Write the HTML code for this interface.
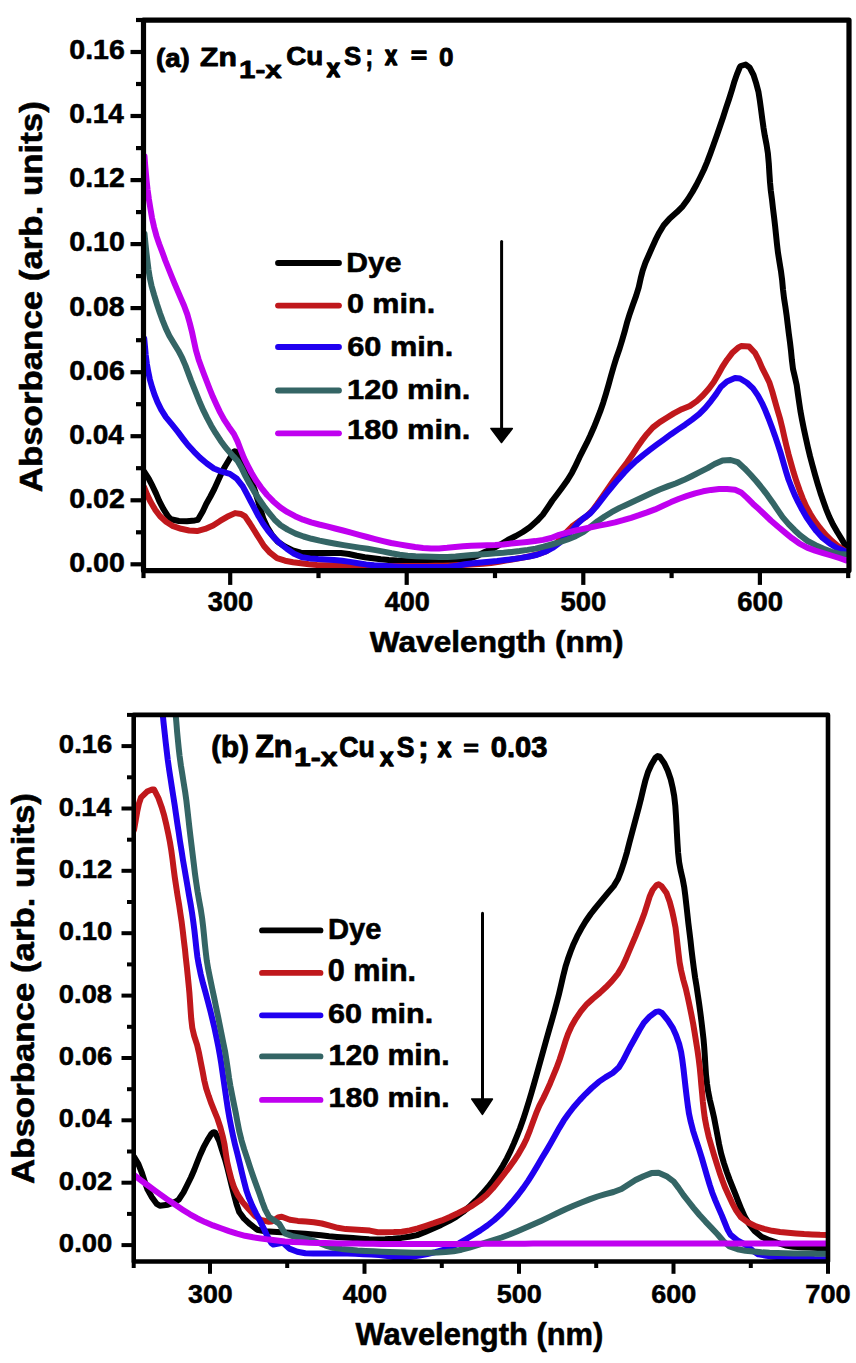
<!DOCTYPE html>
<html><head><meta charset="utf-8"><style>
html,body{margin:0;padding:0;background:#fff;width:856px;height:1363px;overflow:hidden}
svg{display:block}
text{font-family:"Liberation Sans",sans-serif;font-weight:bold;fill:#000;stroke:#000;stroke-linejoin:round}
.cv path{fill:none;stroke-width:6.0;stroke-linejoin:round;stroke-linecap:round}
.lg line{stroke-width:5.8;stroke-linecap:round}
</style></head><body>
<svg width="856" height="1363" viewBox="0 0 856 1363">
<defs>
<clipPath id="ca"><rect x="143.5" y="20" width="705.5" height="550.6"/></clipPath>
<clipPath id="cb"><rect x="133.7" y="714.9" width="694.3" height="546.6"/></clipPath>
</defs>
<g class="cv">
<path d="M144.0,471.5 148.7,478.7 152.6,486.2 156.1,493.6 159.3,501.1 163.2,508.7 167.9,516.2 170.9,519.3 178.9,521.0 186.9,521.3 194.9,520.4 197.9,519.8 202.7,511.6 206.2,504.0 210.4,496.5 214.3,489.0 217.7,481.6 221.1,474.0 225.0,466.5 229.5,459.0 233.9,451.8 234.9,451.3 236.9,451.8 241.9,458.0 245.9,465.4 249.2,474.3 252.3,483.3 255.4,492.3 258.1,501.2 260.7,510.2 263.6,519.4 267.2,527.0 271.8,534.6 277.8,541.7 284.8,546.4 292.8,550.5 300.8,552.7 308.8,552.9 316.8,552.9 324.8,553.0 332.8,553.0 340.8,553.0 348.8,554.0 356.8,555.8 364.8,557.2 372.8,558.3 380.8,559.3 388.8,560.1 396.8,560.6 404.8,560.7 412.8,560.8 420.8,560.9 428.8,561.0 436.8,561.0 444.8,560.8 452.8,560.4 460.8,559.8 468.8,559.0 476.8,556.0 484.8,552.0 492.8,548.5 500.8,544.2 507.8,540.0 515.8,536.0 522.8,532.0 529.8,527.2 536.8,521.1 542.8,514.7 547.6,507.7 552.4,500.5 557.4,494.0 562.4,487.2 567.4,480.2 572.0,472.7 575.7,465.3 579.3,457.7 583.1,450.2 586.9,442.7 590.4,435.3 593.7,427.8 596.7,420.3 600.2,411.4 603.3,402.4 606.0,393.6 608.6,384.6 611.1,375.5 613.7,366.5 616.5,357.4 619.6,348.5 622.3,339.6 624.9,330.6 627.3,321.6 629.7,313.9 632.8,304.9 636.1,295.9 638.7,287.3 640.7,278.3 642.7,270.5 645.4,262.8 648.7,255.3 652.0,247.8 655.4,240.2 659.2,232.7 663.7,225.2 669.7,218.4 676.7,212.3 682.7,206.3 687.7,199.5 692.4,192.0 696.6,184.5 700.4,177.0 704.0,169.5 707.1,162.1 710.5,153.1 713.7,144.2 716.9,135.2 720.0,126.2 723.1,117.2 726.0,108.2 729.0,99.2 731.8,90.3 734.5,81.2 737.2,73.6 739.7,67.5 740.7,66.0 745.7,64.5 749.7,67.7 753.5,74.9 756.3,83.7 758.5,92.1 759.8,100.4 761.0,109.2 762.2,118.3 763.5,127.7 764.8,135.7 766.5,144.4 767.9,153.4 768.8,163.5 769.4,173.5 770.0,182.3 770.8,190.6 772.0,199.7 773.0,208.5 774.1,217.4 775.1,226.0 776.0,234.8 777.0,244.4 778.0,252.8 779.5,262.2 780.9,270.7 782.1,279.8 783.0,289.5 784.0,298.0 785.4,306.9 786.6,315.4 787.7,324.4 788.8,333.5 790.0,342.4 791.0,350.9 791.9,360.2 793.0,369.0 794.9,377.0 796.7,385.1 797.9,393.8 799.2,402.9 800.4,410.9 802.1,420.1 803.9,429.2 805.9,438.3 807.9,447.4 810.1,456.5 812.5,465.5 815.0,474.6 817.6,483.6 820.4,492.7 823.5,501.8 826.2,509.3 829.3,516.9 833.0,524.5 837.3,532.0 841.9,539.5 846.2,547.0 847.5,549.3" stroke="#000" clip-path="url(#ca)"/>
<path d="M144.0,487.0 147.1,494.6 150.7,502.1 155.1,509.6 160.1,516.2 166.1,521.7 173.1,526.2 181.1,528.8 189.1,530.5 197.1,531.1 205.1,528.9 213.1,525.4 220.1,520.9 227.1,516.8 235.1,513.1 241.1,514.0 245.1,516.4 249.9,523.5 254.6,531.0 259.3,538.5 264.0,546.0 270.0,552.7 277.0,558.1 285.0,560.7 293.0,562.2 301.0,563.3 309.0,564.3 317.0,565.0 325.0,565.2 333.0,565.3 341.0,565.3 349.0,565.5 357.0,565.9 365.0,566.0 374.0,566.0 383.0,566.0 392.0,566.0 401.0,566.0 410.0,566.0 419.0,566.0 427.0,566.0 435.0,565.8 443.0,565.7 451.0,565.4 459.0,565.1 467.0,564.7 475.0,564.3 483.0,563.8 491.0,563.0 499.0,561.8 507.0,560.4 515.0,559.0 523.0,557.6 531.0,556.0 539.0,553.9 547.0,550.9 554.0,545.6 560.0,539.3 566.0,532.6 572.0,526.5 579.0,521.3 586.0,516.9 592.0,511.0 597.0,504.3 602.0,497.1 607.0,490.0 612.0,482.7 617.0,475.7 622.0,469.1 627.0,462.5 632.0,455.3 636.8,447.8 641.8,440.7 646.8,434.2 652.8,427.5 659.8,422.1 666.8,417.7 673.8,413.4 681.8,409.2 689.8,406.0 696.8,401.1 702.8,395.5 708.8,388.7 713.8,382.0 718.2,374.5 722.3,367.0 727.1,359.7 732.1,353.1 738.1,347.7 741.1,346.1 749.1,346.6 755.1,353.0 758.9,360.4 762.1,367.9 766.0,375.5 769.5,382.8 772.3,391.6 774.8,400.6 777.4,409.7 780.0,418.5 782.2,427.4 784.2,436.4 786.3,445.4 788.6,454.6 791.1,463.6 793.7,472.7 796.6,481.8 799.8,490.8 802.7,498.4 806.0,506.0 810.1,513.5 814.8,521.0 819.8,527.8 825.8,534.9 831.8,540.8 838.8,546.7 845.8,551.4 846.0,551.5" stroke="#c0181c" clip-path="url(#ca)"/>
<path d="M144.2,338.4 145.0,346.7 145.7,354.8 146.8,363.5 148.2,371.4 149.8,379.2 152.0,387.0 154.5,394.6 157.5,402.2 161.2,409.7 165.9,417.2 171.9,424.4 177.9,431.9 182.9,438.6 187.9,445.0 193.9,451.6 199.9,457.6 206.9,463.5 213.9,468.5 221.9,471.7 229.9,473.9 236.9,478.8 242.8,486.3 246.8,493.8 250.7,501.3 254.7,508.8 258.6,516.3 263.1,523.8 268.1,530.7 274.1,537.8 280.1,543.5 287.1,549.0 294.1,553.8 302.1,557.3 310.1,558.4 318.1,559.1 326.1,559.6 334.1,560.1 342.1,560.8 350.1,561.9 358.1,563.2 366.1,564.4 374.1,565.2 382.1,565.8 390.1,566.3 398.1,566.7 406.1,567.0 414.1,567.0 423.1,567.0 432.1,567.0 441.1,567.0 449.1,566.8 457.1,565.7 465.1,564.3 473.1,563.3 481.1,562.5 489.1,561.7 497.1,561.0 505.1,560.1 513.1,559.1 521.1,557.9 529.1,556.5 537.1,554.7 545.1,551.8 553.1,547.7 560.1,542.3 566.1,536.9 572.1,530.4 577.1,524.1 583.1,518.5 590.1,513.5 596.1,506.8 601.1,500.4 606.1,493.9 612.1,486.5 618.1,479.4 624.1,472.7 630.1,466.5 636.1,460.9 643.1,455.1 650.1,449.7 657.1,444.4 664.1,439.3 671.1,434.2 678.1,429.4 685.1,424.7 692.1,419.6 699.1,414.2 705.1,408.2 711.1,400.8 716.1,394.1 721.0,386.7 727.0,381.4 735.0,378.0 740.0,378.5 747.0,382.7 753.0,388.4 758.0,395.6 762.0,403.1 765.4,410.6 768.4,418.0 771.8,427.0 775.0,435.9 778.0,444.9 780.9,453.8 783.5,462.8 786.1,471.8 788.5,479.5 791.4,487.0 794.6,494.6 798.2,502.1 802.1,509.6 806.5,517.2 811.4,524.4 816.4,531.1 822.4,537.7 829.4,543.2 836.4,547.7 844.4,551.1 846.0,551.5" stroke="#2000f0" clip-path="url(#ca)"/>
<path d="M144.5,233.7 145.4,243.1 146.4,252.5 147.5,261.6 148.5,269.6 149.8,277.9 151.5,285.7 154.1,294.9 156.9,304.0 159.9,313.0 162.7,320.6 165.7,328.1 169.3,335.7 173.8,343.2 178.4,350.7 182.3,358.2 185.5,365.6 188.3,373.1 191.1,380.6 194.1,388.1 197.1,395.6 200.1,403.1 203.5,410.7 207.2,418.2 211.2,425.7 215.7,433.2 220.6,440.7 225.6,447.6 231.6,454.4 237.6,461.1 241.9,468.6 245.5,476.1 249.5,483.6 253.9,491.1 258.6,498.6 263.6,505.7 268.6,512.4 274.6,519.7 280.6,525.2 287.6,529.6 295.6,533.6 303.6,536.5 311.6,538.8 319.6,540.6 327.6,542.2 335.6,543.7 343.6,545.1 351.6,546.4 359.6,547.6 367.6,548.8 375.6,550.1 383.6,551.6 391.6,553.3 399.6,554.8 407.6,555.8 415.6,556.3 423.6,556.6 431.6,556.8 439.6,557.0 447.6,557.0 455.6,556.5 463.6,555.7 471.6,555.0 479.6,554.4 487.6,553.9 495.6,553.3 503.6,552.7 511.6,551.9 519.6,551.0 527.6,549.9 535.6,548.6 543.6,546.7 551.6,544.5 559.6,542.2 567.6,539.5 575.6,536.2 583.6,531.8 590.6,526.6 597.6,521.2 604.6,516.5 611.6,512.2 619.6,507.9 627.6,504.2 635.6,500.6 643.6,496.8 651.6,493.0 659.6,489.5 667.6,486.4 675.6,483.5 683.6,480.1 691.6,476.2 699.6,472.1 707.6,468.1 714.6,464.0 722.6,460.4 730.6,460.0 737.6,462.1 744.6,468.4 750.6,474.7 756.6,481.5 762.6,488.9 767.6,495.4 772.6,502.4 777.6,509.9 782.6,517.1 788.6,524.1 794.6,530.2 800.6,535.7 807.6,541.0 815.6,545.2 823.6,548.8 831.6,551.9 839.6,553.9 846.0,554.6" stroke="#346565" clip-path="url(#ca)"/>
<path d="M144.5,156.2 145.1,164.3 145.9,173.6 146.7,181.8 147.6,189.8 148.9,199.2 150.4,208.5 152.0,217.8 154.1,227.2 156.6,236.4 159.2,244.0 162.6,253.0 165.3,260.5 168.3,268.0 171.3,275.5 174.4,283.1 177.6,290.6 180.8,298.1 184.0,305.5 187.3,314.4 189.8,323.2 192.0,332.0 193.9,340.8 195.9,350.2 198.6,359.4 201.3,367.0 204.1,374.5 207.0,382.0 209.9,389.5 213.0,397.1 216.4,404.6 220.0,412.1 224.1,419.7 228.9,426.9 233.9,434.0 237.5,441.4 240.9,450.3 244.0,458.0 247.7,465.5 251.6,473.0 256.1,480.5 261.1,487.6 267.1,495.0 273.1,501.2 280.1,507.2 287.1,511.9 295.1,516.2 303.1,519.7 311.1,522.4 319.1,524.5 327.1,526.4 335.1,528.5 343.1,530.5 351.1,532.6 359.1,534.8 367.1,537.0 375.1,539.1 383.1,541.1 391.1,543.0 399.1,544.4 407.1,545.7 415.1,547.0 423.1,548.0 431.1,548.5 439.1,548.4 447.1,547.8 455.1,547.0 463.1,546.3 471.1,545.8 479.1,545.5 487.1,545.3 495.1,545.0 503.1,544.5 511.1,543.6 519.1,542.8 527.1,542.0 535.1,541.1 543.1,539.9 551.1,538.0 559.1,534.9 567.1,532.6 575.1,530.7 583.1,528.9 591.1,527.2 599.1,525.6 607.1,524.1 615.1,522.4 623.1,520.2 631.1,517.8 639.1,515.2 647.1,512.4 655.1,509.4 663.1,505.8 671.1,502.1 679.1,498.8 687.1,495.9 695.1,493.3 703.1,491.3 711.1,489.9 719.1,489.0 727.1,489.0 735.1,489.7 741.1,492.4 747.1,497.9 753.1,503.9 759.1,509.3 765.1,515.0 771.1,520.7 778.1,526.8 785.1,532.6 792.1,538.3 799.1,543.3 807.1,547.6 815.1,550.6 823.1,553.1 831.1,555.5 839.1,558.0 846.0,560.3" stroke="#c000f0" clip-path="url(#ca)"/>
<path d="M134.0,1156.7 138.4,1164.1 141.9,1172.9 144.8,1181.9 147.6,1189.6 151.9,1197.2 156.8,1203.9 159.8,1205.7 167.8,1204.7 175.8,1201.6 178.8,1199.5 183.5,1192.4 187.2,1185.0 190.9,1177.5 194.2,1170.0 197.1,1162.5 200.1,1155.0 203.5,1147.4 207.6,1139.9 211.2,1134.1 213.2,1132.4 214.2,1132.2 215.2,1132.7 219.3,1141.3 222.1,1150.3 225.0,1159.2 227.4,1168.0 229.6,1177.0 231.8,1186.0 234.1,1195.1 236.5,1204.1 239.2,1212.0 244.1,1218.6 250.1,1224.2 257.1,1229.7 265.1,1231.3 273.1,1231.8 281.1,1232.3 289.1,1232.8 297.1,1233.3 305.1,1233.8 313.1,1234.5 321.1,1235.3 329.1,1236.2 337.1,1236.9 345.1,1237.5 353.1,1238.1 361.1,1238.7 369.1,1239.2 377.1,1239.4 385.1,1239.3 393.1,1238.8 401.1,1237.9 409.1,1236.8 417.1,1235.1 425.1,1231.9 433.1,1228.4 441.1,1224.9 449.1,1220.9 456.1,1216.8 463.1,1211.9 470.1,1206.0 476.1,1200.2 482.1,1193.9 488.1,1187.0 493.1,1180.5 498.1,1173.3 502.8,1165.8 506.9,1158.4 510.6,1150.9 513.9,1143.4 517.0,1135.9 519.9,1128.5 523.1,1119.6 526.0,1110.6 528.8,1101.6 531.5,1092.7 534.1,1083.7 536.6,1074.7 539.1,1065.7 541.6,1056.7 544.1,1047.7 546.6,1038.7 549.2,1029.7 551.8,1020.7 554.3,1011.7 556.7,1002.8 559.0,993.9 561.1,985.0 563.2,975.9 565.5,966.7 567.9,959.1 570.6,951.5 573.6,943.9 577.1,936.4 581.2,928.8 585.7,921.3 590.7,914.0 595.7,907.6 601.7,900.4 607.7,893.2 613.7,886.1 618.1,878.8 621.5,869.9 624.4,861.0 627.0,852.1 629.3,843.1 631.7,834.1 634.1,825.1 636.5,816.1 638.9,807.1 641.1,798.3 643.2,789.3 645.5,780.1 647.9,772.3 651.3,764.7 655.7,757.4 657.7,756.1 659.7,756.7 664.3,763.2 667.8,770.7 670.7,779.3 672.7,787.9 674.2,796.1 675.3,805.8 675.9,814.7 676.5,825.1 676.9,833.2 677.5,843.7 678.1,852.7 679.1,862.1 680.6,870.3 682.7,879.1 684.2,887.2 685.3,895.7 686.3,904.5 687.3,913.5 688.3,922.7 689.4,931.7 690.5,940.7 691.5,949.8 692.6,958.9 693.8,968.2 695.1,977.5 696.6,986.6 697.9,995.4 699.2,1004.2 700.4,1013.1 701.5,1021.8 702.5,1030.4 703.5,1039.0 704.2,1047.0 704.8,1055.6 705.4,1065.6 706.0,1074.7 707.0,1083.7 708.2,1091.7 709.8,1099.6 712.0,1108.7 714.0,1117.4 715.7,1126.2 717.4,1135.3 719.1,1144.4 721.2,1153.8 723.8,1162.9 726.8,1172.0 729.6,1179.6 732.6,1187.1 735.6,1194.6 738.5,1202.1 741.5,1209.6 744.9,1217.2 749.5,1224.6 754.5,1230.9 761.5,1236.7 769.5,1240.2 777.5,1242.8 785.5,1245.5 793.5,1246.7 801.5,1247.2 809.5,1247.6 817.5,1247.9 825.5,1248.0 827.4,1248.0" stroke="#000" clip-path="url(#cb)"/>
<path d="M134.0,830.0 135.6,820.9 137.2,811.7 138.9,803.8 141.1,797.3 147.1,791.6 152.1,789.5 154.1,789.6 158.4,798.0 161.6,806.9 164.2,815.7 166.3,824.5 168.2,833.3 169.9,842.0 171.3,850.5 172.5,859.3 173.6,868.3 174.8,877.5 176.2,886.8 177.6,895.9 179.1,904.8 180.4,913.6 181.7,922.3 182.8,931.1 183.8,939.9 184.9,948.8 185.8,957.7 186.8,966.6 187.7,975.4 188.6,984.4 189.4,992.9 190.0,1001.2 190.6,1010.1 191.2,1018.4 192.3,1027.9 194.2,1036.0 197.1,1044.9 199.1,1053.5 200.8,1062.4 202.6,1071.4 204.3,1080.6 206.2,1088.5 208.7,1096.1 211.4,1103.7 214.4,1111.2 217.5,1118.7 220.4,1127.5 222.7,1136.2 224.5,1144.5 225.8,1153.2 227.1,1161.6 229.2,1170.8 231.6,1180.0 234.2,1187.7 238.0,1195.3 242.8,1202.4 248.8,1209.3 254.8,1215.7 260.8,1219.9 268.8,1221.7 271.8,1221.5 278.8,1217.1 281.8,1216.7 289.8,1219.7 297.8,1220.9 305.8,1221.6 313.8,1222.2 321.8,1223.5 329.8,1225.7 337.8,1227.8 345.8,1229.1 353.8,1229.6 361.8,1230.0 369.8,1230.6 377.8,1232.2 385.8,1232.3 393.8,1232.1 401.8,1231.7 409.8,1230.4 417.8,1228.3 425.8,1225.8 433.8,1223.2 441.8,1220.4 449.8,1217.0 457.8,1213.3 465.8,1209.3 472.8,1205.3 479.8,1200.6 486.8,1194.7 492.8,1188.3 498.8,1180.9 503.8,1174.5 508.8,1168.0 513.8,1161.1 518.7,1153.6 523.0,1146.1 526.6,1138.7 530.1,1129.8 533.4,1120.8 536.2,1113.2 539.4,1105.6 543.3,1098.1 546.8,1090.7 550.2,1083.2 553.3,1075.7 556.4,1068.2 559.7,1059.3 562.6,1050.4 565.4,1041.3 568.1,1033.7 571.6,1026.1 575.9,1018.6 580.8,1011.4 586.8,1004.2 592.8,998.7 599.8,992.9 605.8,987.3 611.8,981.2 617.8,973.9 622.3,966.5 625.8,959.1 628.9,951.6 632.1,944.1 635.3,936.6 638.3,929.1 641.3,921.6 644.6,912.7 647.4,903.8 649.8,896.2 652.6,890.0 656.6,885.0 658.6,884.3 661.6,886.2 666.5,893.0 669.7,901.7 672.0,910.4 673.9,919.2 675.5,927.5 676.5,935.7 677.5,944.6 678.6,954.0 679.6,962.4 681.1,970.4 683.3,979.7 685.8,988.6 687.8,997.4 689.7,1006.3 691.5,1015.2 693.2,1024.0 694.7,1032.9 696.1,1041.7 697.5,1050.5 698.7,1059.1 699.7,1067.3 700.6,1076.4 701.3,1084.7 702.1,1093.1 702.8,1101.3 703.7,1109.6 704.8,1118.1 706.6,1127.4 708.7,1136.7 711.3,1145.8 714.0,1154.8 716.8,1163.9 719.7,1172.9 722.4,1180.5 725.3,1188.1 728.7,1195.6 732.2,1203.1 736.2,1210.6 741.1,1217.4 748.1,1222.5 756.1,1226.4 764.1,1228.9 772.1,1230.8 780.1,1232.0 788.1,1232.8 796.1,1233.5 804.1,1234.1 812.1,1234.5 820.1,1234.8 827.4,1234.9" stroke="#c0181c" clip-path="url(#cb)"/>
<path d="M162.7,714.0 163.6,723.1 164.6,732.3 165.6,741.5 166.7,750.8 167.8,760.1 169.1,769.3 170.5,778.4 171.9,787.5 173.3,796.4 174.7,805.3 176.0,814.3 177.3,823.3 178.7,832.3 180.0,841.4 181.5,850.5 182.9,859.6 184.5,868.7 186.0,877.6 187.6,886.7 189.1,895.7 190.7,904.6 192.1,913.4 193.3,921.9 194.4,930.4 195.4,939.4 196.4,948.7 197.4,956.9 198.8,964.9 200.7,974.2 203.0,983.4 205.5,992.4 207.9,1001.4 210.2,1010.3 212.4,1019.2 214.5,1028.1 216.4,1037.0 218.2,1045.9 219.8,1054.7 221.2,1063.3 222.5,1072.2 223.8,1081.3 225.1,1090.2 226.4,1099.3 227.8,1108.5 229.4,1117.9 231.2,1127.0 233.1,1136.1 235.2,1145.3 237.5,1154.3 239.7,1163.2 241.8,1172.2 244.0,1181.3 246.4,1190.5 249.1,1198.2 252.3,1205.8 256.0,1213.3 260.0,1220.8 263.7,1228.3 267.1,1235.8 271.3,1243.1 273.3,1244.5 281.3,1243.0 283.3,1243.0 289.3,1248.6 297.3,1251.7 305.3,1253.2 313.3,1253.4 322.3,1253.4 331.3,1253.4 339.3,1253.4 347.3,1253.6 355.3,1253.8 363.3,1254.2 371.3,1254.6 379.3,1255.1 387.3,1256.0 395.3,1257.2 403.3,1257.4 411.3,1256.8 419.3,1255.6 427.3,1254.0 435.3,1252.1 443.3,1250.0 451.3,1247.1 459.3,1243.1 466.3,1239.0 473.3,1234.8 480.3,1230.4 487.3,1225.5 494.3,1220.0 500.3,1214.6 506.3,1208.5 512.3,1201.8 518.3,1194.5 523.3,1187.9 528.3,1180.6 533.0,1173.1 537.5,1165.6 541.9,1158.1 546.4,1150.6 550.7,1143.2 554.9,1135.7 559.2,1128.1 563.7,1120.6 568.7,1113.5 573.7,1107.0 579.7,1100.1 585.7,1093.8 591.7,1088.0 598.7,1081.9 605.7,1077.1 612.7,1073.0 618.7,1067.6 623.3,1060.2 627.1,1052.7 631.0,1045.2 635.2,1037.7 639.3,1030.2 643.9,1022.7 649.9,1016.3 655.9,1011.9 658.9,1011.4 661.9,1013.0 667.9,1020.3 672.6,1027.6 676.0,1035.0 679.1,1043.8 681.1,1051.9 682.4,1060.3 683.5,1069.0 684.5,1077.8 685.5,1086.8 686.6,1096.1 687.8,1105.5 689.0,1113.7 690.7,1121.6 693.1,1130.8 696.0,1139.9 699.0,1148.9 701.8,1157.8 704.4,1166.8 707.0,1175.8 709.7,1184.9 712.2,1192.5 715.2,1200.1 718.4,1207.6 721.7,1215.1 724.7,1222.5 727.8,1230.1 730.4,1234.6 737.4,1240.3 745.4,1244.7 752.4,1250.4 758.4,1254.4 766.4,1255.7 774.4,1256.7 782.4,1257.4 790.4,1258.0 798.4,1258.5 806.4,1258.8 814.4,1259.1 822.4,1259.2 827.4,1259.2" stroke="#2000f0" clip-path="url(#cb)"/>
<path d="M175.6,714.0 176.4,723.1 177.1,731.8 177.9,740.0 178.7,748.1 179.6,756.1 180.9,765.5 182.4,774.7 183.8,783.6 185.2,792.3 186.4,800.9 187.4,809.6 188.4,818.5 189.4,827.6 190.5,836.8 191.6,845.8 192.7,854.8 193.8,863.9 194.9,873.1 196.2,882.3 197.6,891.7 199.2,900.9 200.8,909.6 202.1,918.1 203.1,926.3 204.0,935.1 204.9,944.4 205.8,952.5 206.8,960.8 208.4,970.2 210.3,979.4 212.2,988.5 214.1,997.3 215.9,1006.3 217.8,1015.3 219.6,1024.3 221.4,1033.4 223.2,1042.3 225.0,1051.1 226.4,1059.7 227.7,1068.5 229.0,1077.7 230.3,1085.6 232.1,1094.9 233.9,1103.8 235.7,1112.7 237.4,1121.7 239.2,1131.0 241.5,1140.3 244.2,1149.4 247.2,1158.4 250.1,1167.4 253.2,1176.5 255.9,1184.0 259.2,1193.0 262.3,1202.0 265.2,1209.6 269.2,1217.1 276.2,1221.7 279.2,1223.7 283.5,1231.0 285.5,1233.7 293.5,1236.5 301.5,1237.9 309.5,1239.6 317.5,1242.4 325.5,1245.5 333.5,1247.8 341.5,1248.9 349.5,1249.7 357.5,1250.4 365.5,1250.9 373.5,1251.3 381.5,1251.7 389.5,1252.0 397.5,1252.3 405.5,1252.5 413.5,1252.7 421.5,1252.8 429.5,1252.7 437.5,1252.5 445.5,1252.1 453.5,1251.3 461.5,1249.7 469.5,1247.6 477.5,1245.2 485.5,1242.7 493.5,1240.1 501.5,1237.5 509.5,1234.5 517.5,1231.2 525.5,1227.8 533.5,1224.3 541.5,1220.7 549.5,1216.9 557.5,1213.0 565.5,1209.2 573.5,1205.7 581.5,1202.5 589.5,1199.4 597.5,1196.5 605.5,1194.1 613.5,1192.0 621.5,1189.0 628.5,1184.5 635.5,1180.0 643.5,1176.2 651.5,1173.1 658.5,1172.7 666.5,1176.2 673.5,1181.3 678.5,1187.9 683.5,1195.1 688.5,1201.5 693.5,1207.8 699.5,1215.0 705.5,1221.6 711.5,1227.9 717.5,1234.2 723.5,1241.3 729.5,1246.5 737.5,1249.2 745.5,1250.7 753.5,1251.6 761.5,1252.3 769.5,1252.8 777.5,1253.0 785.5,1253.2 793.5,1253.4 801.5,1253.5 809.5,1253.6 817.5,1253.7 825.5,1253.7 827.4,1253.7" stroke="#346565" clip-path="url(#cb)"/>
<path d="M134.0,1175.0 141.0,1180.3 148.0,1185.5 155.0,1190.6 162.0,1195.6 169.0,1200.6 176.0,1205.3 183.0,1209.9 190.0,1214.3 197.0,1218.2 205.0,1222.1 213.0,1225.4 221.0,1228.3 229.0,1231.1 237.0,1233.7 245.0,1235.8 253.0,1237.3 261.0,1238.5 269.0,1239.6 277.0,1240.5 285.0,1241.4 293.0,1242.0 301.0,1242.3 309.0,1242.7 317.0,1242.9 325.0,1243.1 333.0,1243.3 341.0,1243.4 349.0,1243.5 357.0,1243.6 365.0,1243.8 373.0,1243.8 381.0,1243.9 389.0,1244.0 397.0,1244.0 405.0,1244.0 413.0,1244.0 421.0,1244.0 429.0,1244.0 437.0,1244.0 445.0,1243.9 453.0,1243.9 461.0,1243.9 469.0,1243.9 477.0,1243.8 485.0,1243.8 493.0,1243.8 501.0,1243.7 509.0,1243.7 517.0,1243.7 525.0,1243.7 533.0,1243.6 541.0,1243.6 549.0,1243.6 557.0,1243.6 565.0,1243.5 573.0,1243.5 581.0,1243.5 589.0,1243.5 597.0,1243.5 605.0,1243.5 614.0,1243.5 623.0,1243.5 632.0,1243.5 641.0,1243.5 650.0,1243.5 659.0,1243.5 668.0,1243.5 677.0,1243.5 686.0,1243.5 695.0,1243.5 704.0,1243.5 713.0,1243.5 722.0,1243.5 731.0,1243.5 740.0,1243.5 749.0,1243.5 758.0,1243.5 767.0,1243.5 776.0,1243.5 785.0,1243.5 794.0,1243.5 803.0,1243.5 812.0,1243.5 821.0,1243.5 827.0,1243.5" stroke="#c000f0" clip-path="url(#cb)"/>
</g>
<path d="M143.5,20.1 H849 V570.6 H143.5 Z" fill="none" stroke="#000" stroke-width="5.2" stroke-linejoin="round"/>
<line x1="130.5" y1="564.3" x2="143.5" y2="564.3" stroke="#000" stroke-width="4.2"/>
<text transform="translate(69.32,571.68) scale(0.9823,0.9281)" font-size="29" stroke-width="0.6">0.00</text>
<line x1="136.0" y1="532.3" x2="143.5" y2="532.3" stroke="#000" stroke-width="4.2"/>
<line x1="130.5" y1="500.3" x2="143.5" y2="500.3" stroke="#000" stroke-width="4.2"/>
<text transform="translate(69.32,507.64) scale(0.9823,0.9281)" font-size="29" stroke-width="0.6">0.02</text>
<line x1="136.0" y1="468.2" x2="143.5" y2="468.2" stroke="#000" stroke-width="4.2"/>
<line x1="130.5" y1="436.2" x2="143.5" y2="436.2" stroke="#000" stroke-width="4.2"/>
<text transform="translate(69.34,443.61) scale(0.9647,0.9281)" font-size="29" stroke-width="0.6">0.04</text>
<line x1="136.0" y1="404.2" x2="143.5" y2="404.2" stroke="#000" stroke-width="4.2"/>
<line x1="130.5" y1="372.2" x2="143.5" y2="372.2" stroke="#000" stroke-width="4.2"/>
<text transform="translate(69.32,379.57) scale(0.9823,0.9281)" font-size="29" stroke-width="0.6">0.06</text>
<line x1="136.0" y1="340.2" x2="143.5" y2="340.2" stroke="#000" stroke-width="4.2"/>
<line x1="130.5" y1="308.1" x2="143.5" y2="308.1" stroke="#000" stroke-width="4.2"/>
<text transform="translate(69.32,315.53) scale(0.9764,0.9281)" font-size="29" stroke-width="0.6">0.08</text>
<line x1="136.0" y1="276.1" x2="143.5" y2="276.1" stroke="#000" stroke-width="4.2"/>
<line x1="130.5" y1="244.1" x2="143.5" y2="244.1" stroke="#000" stroke-width="4.2"/>
<text transform="translate(69.32,251.49) scale(0.9823,0.9281)" font-size="29" stroke-width="0.6">0.10</text>
<line x1="136.0" y1="212.1" x2="143.5" y2="212.1" stroke="#000" stroke-width="4.2"/>
<line x1="130.5" y1="180.1" x2="143.5" y2="180.1" stroke="#000" stroke-width="4.2"/>
<text transform="translate(69.32,187.45) scale(0.9823,0.9281)" font-size="29" stroke-width="0.6">0.12</text>
<line x1="136.0" y1="148.1" x2="143.5" y2="148.1" stroke="#000" stroke-width="4.2"/>
<line x1="130.5" y1="116.0" x2="143.5" y2="116.0" stroke="#000" stroke-width="4.2"/>
<text transform="translate(69.34,123.42) scale(0.9647,0.9281)" font-size="29" stroke-width="0.6">0.14</text>
<line x1="136.0" y1="84.0" x2="143.5" y2="84.0" stroke="#000" stroke-width="4.2"/>
<line x1="130.5" y1="52.0" x2="143.5" y2="52.0" stroke="#000" stroke-width="4.2"/>
<text transform="translate(69.32,59.38) scale(0.9823,0.9281)" font-size="29" stroke-width="0.6">0.16</text>
<line x1="136.0" y1="20.0" x2="143.5" y2="20.0" stroke="#000" stroke-width="4.2"/>
<line x1="143.5" y1="570.6" x2="143.5" y2="578.1" stroke="#000" stroke-width="4.2"/>
<line x1="230.2" y1="570.6" x2="230.2" y2="584.9" stroke="#000" stroke-width="4.2"/>
<text transform="translate(207.76,610.55) scale(0.9404,0.9703)" font-size="29" stroke-width="0.6">300</text>
<line x1="318.5" y1="570.6" x2="318.5" y2="578.1" stroke="#000" stroke-width="4.2"/>
<line x1="406.7" y1="570.6" x2="406.7" y2="584.9" stroke="#000" stroke-width="4.2"/>
<text transform="translate(384.64,610.55) scale(0.9338,0.9703)" font-size="29" stroke-width="0.6">400</text>
<line x1="495.0" y1="570.6" x2="495.0" y2="578.1" stroke="#000" stroke-width="4.2"/>
<line x1="583.3" y1="570.6" x2="583.3" y2="584.9" stroke="#000" stroke-width="4.2"/>
<text transform="translate(560.58,610.55) scale(0.9471,0.9703)" font-size="29" stroke-width="0.6">500</text>
<line x1="671.6" y1="570.6" x2="671.6" y2="578.1" stroke="#000" stroke-width="4.2"/>
<line x1="759.9" y1="570.6" x2="759.9" y2="584.9" stroke="#000" stroke-width="4.2"/>
<text transform="translate(737.15,610.55) scale(0.9471,0.9703)" font-size="29" stroke-width="0.6">600</text>
<line x1="848.2" y1="570.6" x2="848.2" y2="578.1" stroke="#000" stroke-width="4.2"/>
<path d="M133.7,714.9 H828 V1261.5 H133.7 Z" fill="none" stroke="#000" stroke-width="4.6" stroke-linejoin="round"/>
<line x1="121.5" y1="1245.1" x2="133.7" y2="1245.1" stroke="#000" stroke-width="4.0"/>
<text transform="translate(58.85,1252.2) scale(0.9476,0.9047)" font-size="29" stroke-width="0.6">0.00</text>
<line x1="127.0" y1="1213.9" x2="133.7" y2="1213.9" stroke="#000" stroke-width="4.0"/>
<line x1="121.5" y1="1182.7" x2="133.7" y2="1182.7" stroke="#000" stroke-width="4.0"/>
<text transform="translate(58.85,1189.82) scale(0.9476,0.9047)" font-size="29" stroke-width="0.6">0.02</text>
<line x1="127.0" y1="1151.5" x2="133.7" y2="1151.5" stroke="#000" stroke-width="4.0"/>
<line x1="121.5" y1="1120.3" x2="133.7" y2="1120.3" stroke="#000" stroke-width="4.0"/>
<text transform="translate(58.87,1127.45) scale(0.9305,0.9047)" font-size="29" stroke-width="0.6">0.04</text>
<line x1="127.0" y1="1089.2" x2="133.7" y2="1089.2" stroke="#000" stroke-width="4.0"/>
<line x1="121.5" y1="1058.0" x2="133.7" y2="1058.0" stroke="#000" stroke-width="4.0"/>
<text transform="translate(58.85,1065.07) scale(0.9476,0.9047)" font-size="29" stroke-width="0.6">0.06</text>
<line x1="127.0" y1="1026.8" x2="133.7" y2="1026.8" stroke="#000" stroke-width="4.0"/>
<line x1="121.5" y1="995.6" x2="133.7" y2="995.6" stroke="#000" stroke-width="4.0"/>
<text transform="translate(58.86,1002.7) scale(0.9418,0.9047)" font-size="29" stroke-width="0.6">0.08</text>
<line x1="127.0" y1="964.4" x2="133.7" y2="964.4" stroke="#000" stroke-width="4.0"/>
<line x1="121.5" y1="933.2" x2="133.7" y2="933.2" stroke="#000" stroke-width="4.0"/>
<text transform="translate(58.85,940.32) scale(0.9476,0.9047)" font-size="29" stroke-width="0.6">0.10</text>
<line x1="127.0" y1="902.0" x2="133.7" y2="902.0" stroke="#000" stroke-width="4.0"/>
<line x1="121.5" y1="870.8" x2="133.7" y2="870.8" stroke="#000" stroke-width="4.0"/>
<text transform="translate(58.85,877.95) scale(0.9476,0.9047)" font-size="29" stroke-width="0.6">0.12</text>
<line x1="127.0" y1="839.7" x2="133.7" y2="839.7" stroke="#000" stroke-width="4.0"/>
<line x1="121.5" y1="808.5" x2="133.7" y2="808.5" stroke="#000" stroke-width="4.0"/>
<text transform="translate(58.87,815.57) scale(0.9305,0.9047)" font-size="29" stroke-width="0.6">0.14</text>
<line x1="127.0" y1="777.3" x2="133.7" y2="777.3" stroke="#000" stroke-width="4.0"/>
<line x1="121.5" y1="746.1" x2="133.7" y2="746.1" stroke="#000" stroke-width="4.0"/>
<text transform="translate(58.85,753.2) scale(0.9476,0.9047)" font-size="29" stroke-width="0.6">0.16</text>
<line x1="127.0" y1="714.9" x2="133.7" y2="714.9" stroke="#000" stroke-width="4.0"/>
<line x1="133.7" y1="1261.5" x2="133.7" y2="1268.0" stroke="#000" stroke-width="4.0"/>
<line x1="210.0" y1="1261.5" x2="210.0" y2="1273.8" stroke="#000" stroke-width="4.0"/>
<text transform="translate(187.99,1303.41) scale(0.9234,0.8906)" font-size="29" stroke-width="0.6">300</text>
<line x1="287.2" y1="1261.5" x2="287.2" y2="1268.0" stroke="#000" stroke-width="4.0"/>
<line x1="364.5" y1="1261.5" x2="364.5" y2="1273.8" stroke="#000" stroke-width="4.0"/>
<text transform="translate(342.8,1303.41) scale(0.9169,0.8906)" font-size="29" stroke-width="0.6">400</text>
<line x1="441.8" y1="1261.5" x2="441.8" y2="1268.0" stroke="#000" stroke-width="4.0"/>
<line x1="519.0" y1="1261.5" x2="519.0" y2="1273.8" stroke="#000" stroke-width="4.0"/>
<text transform="translate(496.68,1303.41) scale(0.93,0.8906)" font-size="29" stroke-width="0.6">500</text>
<line x1="596.2" y1="1261.5" x2="596.2" y2="1268.0" stroke="#000" stroke-width="4.0"/>
<line x1="673.5" y1="1261.5" x2="673.5" y2="1273.8" stroke="#000" stroke-width="4.0"/>
<text transform="translate(651.18,1303.41) scale(0.93,0.8906)" font-size="29" stroke-width="0.6">600</text>
<line x1="750.8" y1="1261.5" x2="750.8" y2="1268.0" stroke="#000" stroke-width="4.0"/>
<line x1="828.0" y1="1261.5" x2="828.0" y2="1273.8" stroke="#000" stroke-width="4.0"/>
<text transform="translate(805.36,1303.41) scale(0.9367,0.8906)" font-size="29" stroke-width="0.6">700</text>
<g class="lg">
<line x1="278" y1="263" x2="339" y2="263" stroke="#000"/>
<line x1="278" y1="305.6" x2="339" y2="305.6" stroke="#c0181c"/>
<line x1="278" y1="347" x2="339" y2="347" stroke="#2000f0"/>
<line x1="278" y1="390.5" x2="339" y2="390.5" stroke="#346565"/>
<line x1="278" y1="433.3" x2="339" y2="433.3" stroke="#c000f0"/>
<line x1="262" y1="930.4" x2="320.5" y2="930.4" stroke="#000"/>
<line x1="262" y1="972.9" x2="320.5" y2="972.9" stroke="#c0181c"/>
<line x1="262" y1="1015.4" x2="320.5" y2="1015.4" stroke="#2000f0"/>
<line x1="262" y1="1056.4" x2="320.5" y2="1056.4" stroke="#346565"/>
<line x1="262" y1="1099.9" x2="320.5" y2="1099.9" stroke="#c000f0"/>
</g>
<line x1="501.6" y1="241.5" x2="501.6" y2="432" stroke="#000" stroke-width="3" stroke-linecap="round"/>
<path d="M491,428.5 L512.3,428.5 L501.5,442.5 Z" fill="#000" stroke="#000" stroke-width="1.6" stroke-linejoin="round"/>
<line x1="482.5" y1="913.3" x2="482.5" y2="1100" stroke="#000" stroke-width="3" stroke-linecap="round"/>
<path d="M471.8,1099 L492.4,1099 L482.4,1114.4 Z" fill="#000" stroke="#000" stroke-width="1.6" stroke-linejoin="round"/>
<text transform="translate(369.85,652.43) scale(1.0544,0.9552)" font-size="30" stroke-width="0.6">Wavelength (nm)</text>
<text transform="translate(355.52,1344.51) scale(0.9661,0.9554)" font-size="32" stroke-width="0.6">Wavelength (nm)</text>
<text transform="translate(42.07,492.2) rotate(-90) scale(1.0561,0.9613)" font-size="33" stroke-width="0.6">Absorbance (arb. units)</text>
<text transform="translate(34.37,1183.9) rotate(-90) scale(1.0556,0.9613)" font-size="33" stroke-width="0.6">Absorbance (arb. units)</text>
<text transform="translate(346.23,271.71) scale(1.0044,0.9286)" font-size="30" stroke-width="0.6">Dye</text>
<text transform="translate(346.88,313.28) scale(1.019,0.9304)" font-size="30" stroke-width="0.6">0 min.</text>
<text transform="translate(347.22,355.88) scale(1.0257,0.9348)" font-size="30" stroke-width="0.6">60 min.</text>
<text transform="translate(346.99,399.19) scale(1.0286,0.9174)" font-size="30" stroke-width="0.6">120 min.</text>
<text transform="translate(346.99,439.28) scale(1.0286,0.9304)" font-size="30" stroke-width="0.6">180 min.</text>
<text transform="translate(327.88,938.83) scale(0.9741,0.9857)" font-size="30" stroke-width="0.6">Dye</text>
<text transform="translate(327.68,980.72) scale(1.0202,1.0261)" font-size="30" stroke-width="0.6">0 min.</text>
<text transform="translate(328.02,1023.27) scale(1.0178,0.9522)" font-size="30" stroke-width="0.6">60 min.</text>
<text transform="translate(328.62,1064.94) scale(1.008,0.987)" font-size="30" stroke-width="0.6">120 min.</text>
<text transform="translate(328.62,1106.67) scale(1.008,0.9478)" font-size="30" stroke-width="0.6">180 min.</text>
<text transform="translate(155.97,66.88) scale(1.0258,0.9692)" font-size="27" stroke-width="0.9">(a)</text>
<text transform="translate(200.03,65.79) scale(1.117,0.9207)" font-size="27" stroke-width="0.9">Zn</text>
<text transform="translate(239.04,78.11) scale(1.0921,0.8644)" font-size="27" stroke-width="0.9">1-x</text>
<text transform="translate(286.21,65.08) scale(1.0294,0.935)" font-size="27" stroke-width="0.9">Cu</text>
<text transform="translate(326.69,77.17) scale(0.8816,0.9511)" font-size="27" stroke-width="1.5">x</text>
<text transform="translate(343.98,65.06) scale(0.9588,0.955)" font-size="27" stroke-width="0.9">S</text>
<text transform="translate(365.52,66.22) scale(0.84,1.1732)" font-size="27" stroke-width="0.9">;</text>
<text transform="translate(384.94,65.13) scale(0.8082,1.0085)" font-size="27" stroke-width="1.5">x</text>
<text transform="translate(410.96,62.71) scale(1.0133,0.8143)" font-size="27" stroke-width="1.6">=</text>
<text transform="translate(438.96,65.65) scale(0.9659,0.975)" font-size="27" stroke-width="0.9">0</text>
<text transform="translate(211.18,756.68) scale(1.0171,1.0446)" font-size="29" stroke-width="0.9">(b)</text>
<text transform="translate(255.15,757.44) scale(1.0574,1.079)" font-size="29" stroke-width="0.9">Zn</text>
<text transform="translate(294.01,766.41) scale(1.0402,0.8661)" font-size="29" stroke-width="0.9">1-x</text>
<text transform="translate(339.19,757.1) scale(0.9193,1.0453)" font-size="29" stroke-width="0.9">Cu</text>
<text transform="translate(380.06,766.12) scale(0.8423,0.876)" font-size="29" stroke-width="1.5">x</text>
<text transform="translate(396.79,757.1) scale(0.9164,1.0453)" font-size="29" stroke-width="0.9">S</text>
<text transform="translate(417.89,758.0) scale(1.12,1.06)" font-size="29" stroke-width="0.9">;</text>
<text transform="translate(437.66,757.17) scale(0.8365,0.942)" font-size="29" stroke-width="1.5">x</text>
<text transform="translate(463.4,754.61) scale(0.8939,0.7216)" font-size="29" stroke-width="1.6">=</text>
<text transform="translate(490.83,757.1) scale(1.0048,1.0453)" font-size="29" stroke-width="0.9">0.03</text>
</svg>
</body></html>
